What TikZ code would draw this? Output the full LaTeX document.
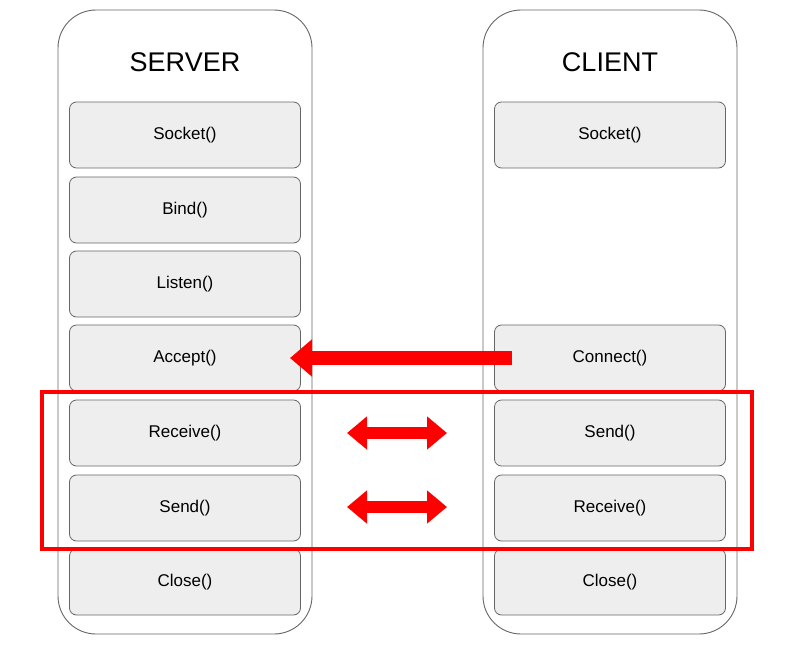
\documentclass[tikz,border=0pt]{standalone}
\usepackage{fontspec}
\setmainfont{Liberation Sans}
\usetikzlibrary{positioning, arrows.meta}
\definecolor{boxfill}{HTML}{EEEEEE}
\definecolor{boxline}{HTML}{666666}
\definecolor{sigred}{HTML}{FF0000}

\begin{document}
\begin{tikzpicture}[
			x=1pt, y=-1pt,
			Lane/.style={
				draw=boxline, rounded corners=38pt, line width=0.9pt,
				minimum width=254pt, minimum height=624pt
			},
			Call/.style={
				draw=boxline, fill=boxfill, rounded corners=7pt, line width=0.8pt,
				minimum width=231pt, minimum height=66pt,
				font=\fontsize{17}{20}\selectfont
			},
			Title/.style={font=\fontsize{27}{30}\selectfont},
			BigArrow/.style={
				draw=sigred, line width=14pt,
				-{Triangle[width=36pt, length=22pt]}
			},
			DuoArrow/.style={
				draw=sigred, line width=12pt,
				{Triangle[width=32pt, length=20pt]}-{Triangle[width=32pt, length=20pt]}
			}
			]
			
			\useasboundingbox (0,0) rectangle (790,648);
			
			\node [Lane] (SRV) at (185,322) {};
			\node [Lane] (CLI) at (610,322) {};
			\node [Title] (SRVT) at (185,62) {SERVER};
			\node [Title] (CLIT) at (610,62) {CLIENT};
			
			% server column
			\node [Call] (SSocket)  at (185,135) {Socket()};
			\node [Call] (SBind)    at (185,210) {Bind()};
			\node [Call] (SListen)  at (185,284) {Listen()};
			\node [Call] (SAccept)  at (185,358) {Accept()};
			\node [Call] (SReceive) at (185,433) {Receive()};
			\node [Call] (SSend)    at (185,508) {Send()};
			\node [Call] (SClose)   at (185,582) {Close()};
			
			% client column
			\node [Call] (CSocket)  at (610,135) {Socket()};
			\node [Call] (CConnect) at (610,358) {Connect()};
			\node [Call] (CSend)    at (610,433) {Send()};
			\node [Call] (CReceive) at (610,508) {Receive()};
			\node [Call] (CClose)   at (610,582) {Close()};
			
			\draw [draw=sigred, line width=4pt] (42,392) rectangle (752,549);
			
			\coordinate (A1) at (512,358);
			\coordinate (A2) at (290,358);
			\draw [BigArrow] (A1) -- (A2);
			
			\coordinate (D1) at (347,433);
			\coordinate (D2) at (447,433);
			\coordinate (D3) at (347,507);
			\coordinate (D4) at (447,507);
			\draw [DuoArrow] (D1) -- (D2);
			\draw [DuoArrow] (D3) -- (D4);
		\end{tikzpicture}
\end{document}
